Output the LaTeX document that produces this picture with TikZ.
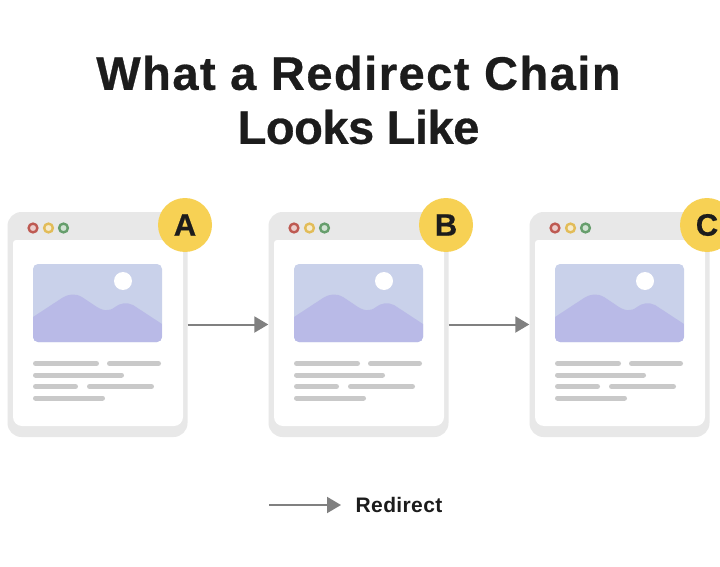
\documentclass[tikz,border=0pt]{standalone}
\usepackage{fontspec}
\setmainfont{Liberation Sans}
\newfontfamily\titlefont[LetterSpace=3.2,FakeBold=0.6]{Liberation Sans Bold}
\newfontfamily\titlefonttight[LetterSpace=-1.0,FakeBold=0.6]{Liberation Sans Bold}
\newfontfamily\legendfont[LetterSpace=1.8]{Liberation Sans Bold}
\newfontfamily\badgefont[FakeBold=0.6]{Liberation Sans Bold}
\usetikzlibrary{arrows.meta}
\definecolor{framegray}{HTML}{E8E8E8}
\definecolor{skyc}{HTML}{C9D1EA}
\definecolor{hillc}{HTML}{B9BAE7}
\definecolor{linec}{HTML}{C9C9C9}
\definecolor{badgec}{HTML}{F7D154}
\definecolor{inkc}{HTML}{1C1C1C}
\definecolor{arrowc}{HTML}{808080}
\definecolor{dotr}{HTML}{BE5A52}
\definecolor{doty}{HTML}{E2BC58}
\definecolor{dotg}{HTML}{669E6C}
\tikzset{
  x=1pt,y=-1pt,
  framebox/.style={fill=framegray,rounded corners=14pt,minimum width=180pt,minimum height=225pt,inner sep=0pt,draw=none},
  textbar/.style={draw=linec,line width=5pt,line cap=round},
  windot/.style={line width=2.4pt,fill=white!70!#1,draw=#1},
  badge/.style={circle,fill=badgec,minimum size=54pt,inner sep=0pt,text=inkc,font=\badgefont\fontsize{31}{31}\selectfont},
  flow/.style={draw=arrowc,line width=2pt,-{Triangle[length=14pt,width=16pt]}},
  pics/browser/.style={code={
    \node[framebox] (-frame) at (97.5,324.5) {};
    \fill[white] (13,300) [rounded corners=3pt] -- (13,240) -- (183,240) [rounded corners=9pt] -- (183,426) -- (13,426) [sharp corners] -- cycle;
    \fill[skyc,rounded corners=5pt] (33,264) rectangle (162,342);
    \begin{scope}
      \clip[rounded corners=5pt] (33,264) rectangle (162,342);
      \fill[hillc] (33,317) -- (62,298) .. controls (68,294) and (75,293) .. (82,297)
        -- (94,305) .. controls (102,311) and (109,312) .. (115,307)
        .. controls (120,303) and (127,302) .. (133,305) -- (162,324) -- (162,342) -- (33,342) -- cycle;
    \end{scope}
    \fill[white] (123,281) circle[radius=9];
    \draw[textbar] (35.5,363.5) -- (96.5,363.5);
    \draw[textbar] (109.5,363.5) -- (158.5,363.5);
    \draw[textbar] (35.5,375) -- (121.5,375);
    \draw[textbar] (35.5,386.5) -- (75.5,386.5);
    \draw[textbar] (89.5,386.5) -- (151.5,386.5);
    \draw[textbar] (35.5,398) -- (102.5,398);
    \draw[windot=dotr] (33,228) circle[radius=4.4];
    \draw[windot=doty] (48.5,228) circle[radius=4.4];
    \draw[windot=dotg] (63.5,228) circle[radius=4.4];
    \node[badge] (-badge) at (185,225) {#1};
  }}
}
\begin{document}
\begin{tikzpicture}
\useasboundingbox (0,0) rectangle (720,567);
\fill[white] (0,0) rectangle (720,567);
\node[align=center,text=inkc,font=\titlefont\fontsize{47}{54}\selectfont,inner sep=0pt] (title) at (358.5,100) {What a Redirect Chain\\{\titlefonttight\fontsize{47}{54}\selectfont Looks Like}};
\pic (a) at (0,0) {browser=A};
\pic (b) at (261,0) {browser=B};
\pic (c) at (522,0) {browser=C};
\draw[flow] (a-frame) -- (b-frame);
\draw[flow] (b-frame) -- (c-frame);
\coordinate (legstart) at (269,505);
\coordinate (legend) at (341,505);
\draw[flow] (legstart) -- (legend);
\node[anchor=base west,inner sep=0pt,text=inkc,font=\legendfont\fontsize{21}{24}\selectfont] (legendtext) at (355.5,512) {Redirect};
\end{tikzpicture}
\end{document}
